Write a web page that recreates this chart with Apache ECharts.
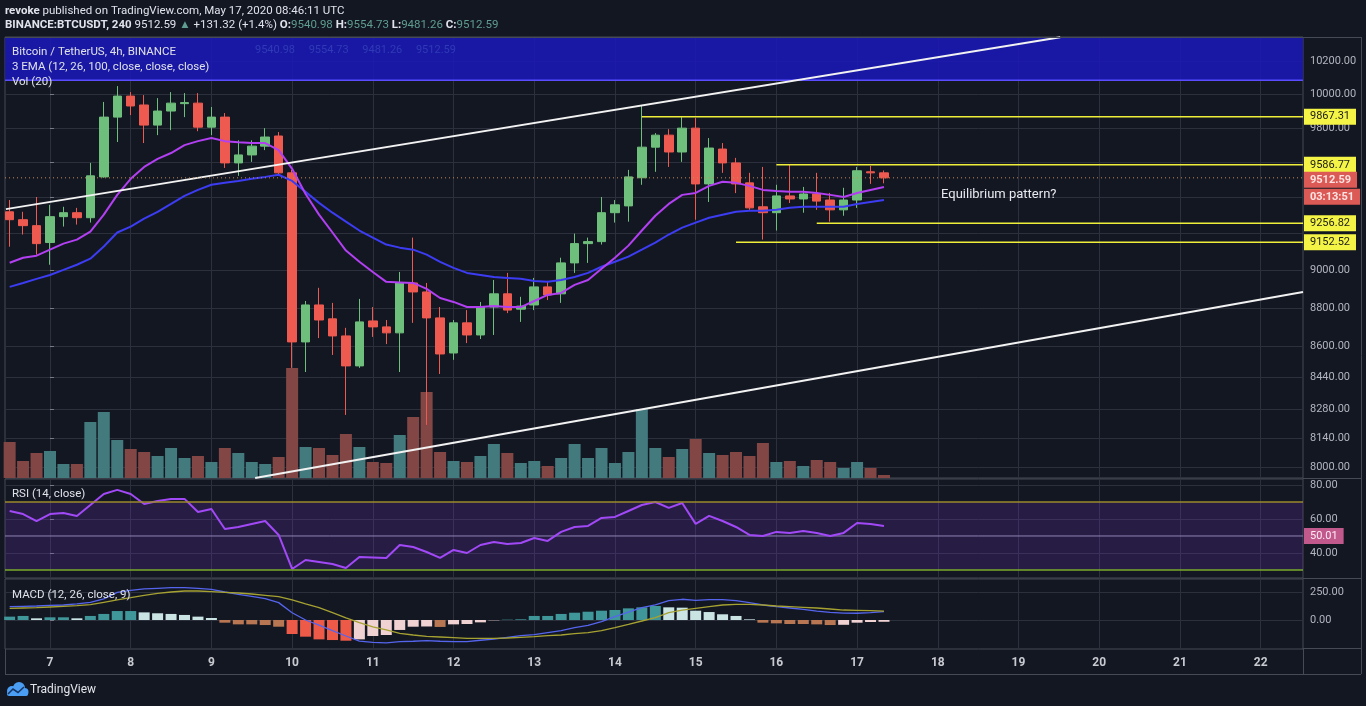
<!DOCTYPE html>
<html><head><meta charset="utf-8">
<script src="https://cdn.jsdelivr.net/npm/echarts@6/dist/echarts.min.js"></script>
<style>html,body{margin:0;padding:0;background:#131722;overflow:hidden}#c{width:1366px;height:706px}</style>
</head><body><div id="c"></div>
<script>
// ---------------- DATA ----------------
// 4h candles, BINANCE:BTCUSDT, first candle May 6 12:00 UTC; hours counted from May 7 00:00 UTC
const firstCandleHour = -12;
const candleStepHours = 4;
// [open, high, low, close]
const ohlc = [
[9321,9387,9128,9277],[9277,9321,9195,9244],[9244,9404,9085,9145],[9151,9360,9030,9294],
[9294,9349,9239,9316],[9316,9343,9250,9288],[9288,9598,9261,9524],[9518,9955,9513,9865],
[9865,10050,9719,9990],[9990,10014,9877,9931],[9937,9996,9713,9818],[9818,9978,9759,9901],
[9901,10014,9788,9948],[9945,10008,9865,9951],[9948,10008,9782,9806],[9806,9925,9759,9865],
[9865,9889,9569,9598],[9598,9729,9524,9644],[9644,9729,9604,9695],[9695,9800,9672,9748],
[9754,9777,9524,9541],[9541,9558,8489,8622],[8622,8836,8468,8815],[8815,8906,8642,8736],
[8742,8826,8555,8653],[8653,8695,8253,8499],[8499,8847,8489,8726],[8731,8804,8648,8700],
[8700,8736,8611,8669],[8669,8991,8468,8932],[8932,9178,8721,8884],[8884,8932,8204,8747],
[8747,8804,8458,8560],[8565,8736,8530,8721],[8721,8788,8616,8658],[8658,8831,8637,8804],
[8804,8948,8658,8874],[8874,8986,8772,8788],[8793,8858,8726,8809],[8815,8959,8788,8911],
[8911,8943,8841,8868],[8874,9068,8826,9040],[9040,9200,8986,9145],[9145,9178,9040,9156],
[9156,9404,9140,9316],[9316,9387,9261,9360],[9354,9558,9266,9518],[9513,9937,9473,9689],
[9689,9771,9547,9759],[9759,9794,9575,9661],[9661,9865,9604,9800],[9800,9859,9277,9478],
[9478,9742,9376,9684],[9678,9713,9541,9598],[9598,9627,9426,9478],[9484,9541,9332,9343],
[9349,9575,9167,9316],[9316,9473,9217,9410],[9410,9587,9370,9393],[9393,9461,9316,9421],
[9421,9541,9332,9381],[9387,9427,9266,9332],[9332,9456,9299,9387],[9387,9575,9343,9553],
[9547,9581,9478,9541],[9540.98,9554.73,9481.26,9512.59]
];
const volume = [18000,8500,12500,13500,7000,7000,28000,33000,19000,14500,
13000,11000,15000,10000,11000,8000,15000,12500,8000,7000,
10500,55000,15500,15000,11500,22000,15500,8000,7500,21500,
30500,43000,13000,8500,8000,11000,17000,12500,7500,8500,
6000,10000,17000,10000,15000,7500,13000,34500,15000,10500,
14500,19500,12500,11500,13000,11000,17500,8000,8500,6000,
9000,8000,5000,8000,5000,1500];
const ema12 = [9041,9068,9079,9112,9145,9167,9211,9305,9416,9507,
9575,9621,9655,9701,9724,9742,9724,9718,9713,9713,
9672,9564,9421,9305,9206,9107,9046,8991,8938,8935,
8932,8900,8852,8831,8804,8804,8809,8804,8804,8836,
8868,8879,8922,8948,9008,9068,9134,9217,9299,9365,
9416,9427,9467,9490,9484,9467,9444,9438,9433,9433,
9427,9416,9404,9427,9444,9461];
const ema26 = [8911,8932,8954,8975,9002,9030,9063,9129,9206,9239,
9283,9321,9365,9410,9444,9473,9484,9495,9507,9518,
9530,9495,9433,9371,9316,9266,9217,9178,9140,9123,
9112,9085,9046,9013,8986,8975,8964,8959,8954,8943,
8938,8948,8964,8986,9019,9046,9074,9112,9151,9195,
9233,9261,9288,9305,9321,9327,9327,9332,9343,9349,
9349,9349,9349,9365,9376,9387];
const rsi = [64.7,62.9,58.8,62.9,63.5,61.8,68.2,74.7,77.1,74.7,
68.8,70.6,71.8,71.8,64.1,65.9,54.1,55.3,57.1,58.8,
50.6,30.6,35.9,34.7,33.5,31.2,37.6,37.4,37.1,44.7,
43.5,40.6,37.1,41.8,40.0,44.7,46.5,45.3,45.9,48.8,
47.1,52.4,55.3,55.9,60.6,61.2,64.7,68.2,70.0,66.5,
69.4,57.1,61.8,58.8,55.3,50.6,50.0,52.4,51.8,52.9,
51.8,50.0,51.8,57.6,57.1,55.9];
const macd = [119,122,125,131,134,143,158,188,247,265,
277,283,289,289,283,274,250,229,211,190,
155,65,0,-45,-95,-143,-188,-199,-205,-193,
-190,-185,-190,-193,-193,-181,-170,-155,-140,-131,
-113,-95,-68,-48,-15,30,71,110,134,173,
185,176,182,182,173,155,134,119,107,95,
80,68,62,60,65,74];
const signal = [104,107,110,116,122,128,137,158,179,199,
220,238,250,259,259,253,247,241,232,220,
208,179,143,110,65,18,-24,-62,-89,-119,
-134,-146,-152,-158,-164,-164,-164,-161,-155,-149,
-140,-134,-122,-113,-95,-68,-39,-9,21,65,
89,104,119,134,140,140,134,125,119,113,
107,98,89,86,83,80];
const hist = [30,36,15,24,24,15,36,54,80,80,
68,60,54,45,30,18,-24,-39,-39,-45,
-60,-125,-149,-173,-179,-185,-173,-143,-134,-89,
-60,-58,-62,-39,-36,-21,-3,3,6,36,
36,54,65,74,83,89,104,113,125,113,
110,83,71,51,36,6,-24,-30,-36,-36,
-39,-45,-43,-24,-18,-16];
// day ticks (hours from May 7 00:00)
const dayHours = [0,24,48,72,96,120,144,168,192,216,240,264,288,312,336,360];
const dayLabels = ['7','8','9','10','11','12','13','14','15','16','17','18','19','20','21','22'];
const priceTicks = [8000,8140,8280,8440,8600,8800,9000,9200,9400,9600,9800,10000,10200];
const priceLabelTicks = [8000,8140,8280,8440,8600,8800,9000,9800,10000,10200];
const rsiTicks = [40,60,80];
const macdTicks = [0,250];
// drawings: horizontal levels [price, start hour]
const levelPrices = [9867.31, 9586.77, 9256.82, 9152.52];
const levelFromHours = [176, 216, 228, 204];
// trend lines: [hour, price] anchors
const upperTrend = [[-13.1, 9336], [300.4, 10349]];
const lowerTrend = [[61.0, 7947], [372.6, 8884]];
// top rectangle drawing (price from)
const bandFromPrice = 10086;
const rsiValueLabel = 50.01;
const countdown = '03:13:51';
const change = 131.32, changePct = 1.4;

// ---------------- CHART ----------------
const X_MIN = -13.38, X_MAX = 372.6;
const P_MIN = 7947, P_MAX = 10350;
const L = Math.log;
const hourAt = i => firstCandleHour + candleStepHours * i;
const FONT = 'Roboto, "Liberation Sans", sans-serif';
const GRID_C = '#2c303c', FRAME = '#464a55', AXIS_TXT = '#b2b5be';
const UP = '#6fbf7c', DN = '#ef5a50';

const last = ohlc[ohlc.length - 1];
const lastClose = last[3];

const candleData = ohlc.map((d, i) => [hourAt(i), L(d[0]), L(d[3]), L(d[2]), L(d[1])]);
const volData = volume.map((v, i) => ({value: [hourAt(i), v],
  itemStyle: {color: ohlc[i][3] >= ohlc[i][0] ? '#437a7e' : '#824745'}}));
const lineData = arr => arr.map((v, i) => [hourAt(i), L(v)]);
const histData = hist.map((v, i) => {
  const prev = i > 0 ? hist[i - 1] : v;
  let c;
  if (v >= 0) c = v >= prev ? '#3f9799' : '#c9e4e3';
  else c = v <= prev ? (v < -100 ? '#ee5a48' : '#b87752') : '#f1d2d2';
  return {value: [hourAt(i), v], itemStyle: {color: c}};
});

function xAxis(gi) {
  return {
    type: 'value', gridIndex: gi, min: X_MIN, max: X_MAX,
    axisLine: {show: false},
    axisTick: {show: false, customValues: dayHours},
    axisLabel: {show: gi === 2, customValues: dayHours, formatter: v => dayLabels[dayHours.indexOf(v)],
      color: '#c8cad0', fontSize: 12, fontWeight: 'bold', fontFamily: FONT, margin: 8},
    splitLine: {show: true, lineStyle: {color: GRID_C, width: 1}}
  };
}
function yAxis(gi, min, max, ticks, labels, fmt) {
  return {
    type: 'value', gridIndex: gi, position: 'right', min, max,
    axisLine: {show: false},
    axisTick: {show: true, length: 4, lineStyle: {color: '#787b86'}, customValues: ticks},
    axisLabel: {customValues: labels, formatter: fmt, color: AXIS_TXT, fontSize: 11, fontFamily: FONT, margin: 7},
    splitLine: {show: true, lineStyle: {color: GRID_C, width: 1}}
  };
}
const boxLabel = (text, bg, fg, extra) => Object.assign({
  show: true, formatter: () => text, backgroundColor: bg, color: fg,
  fontSize: 11, fontFamily: FONT, padding: [2, 6, 2, 6], distance: 1, lineHeight: 12
}, extra || {});

const series = [];
// top rectangle drawing + its edge
series.push({
  type: 'line', xAxisIndex: 0, yAxisIndex: 0, z: 1, silent: true, symbol: 'none',
  data: [[X_MIN, L(bandFromPrice)], [X_MAX, L(bandFromPrice)]],
  lineStyle: {color: '#5a4cff', width: 1.5},
  markArea: {silent: true, itemStyle: {color: 'rgba(27,24,178,0.9)'},
    data: [[{yAxis: L(bandFromPrice)}, {yAxis: L(P_MAX)}]]}
});
series.push({type: 'bar', xAxisIndex: 0, yAxisIndex: 1, z: 1, barWidth: 12, data: volData, silent: true});
series.push({
  type: 'candlestick', xAxisIndex: 0, yAxisIndex: 0, z: 3, barWidth: 9,
  data: candleData, encode: {x: 0, y: [1, 2, 3, 4]},
  itemStyle: {color: UP, color0: DN, borderColor: UP, borderColor0: DN, borderWidth: 1}
});
series.push({type: 'line', xAxisIndex: 0, yAxisIndex: 0, z: 4, symbol: 'none', silent: true,
  data: lineData(ema26), lineStyle: {color: '#3c3cf2', width: 2}});
series.push({type: 'line', xAxisIndex: 0, yAxisIndex: 0, z: 4, symbol: 'none', silent: true,
  data: lineData(ema12), lineStyle: {color: '#b23ff2', width: 2}});
[upperTrend, lowerTrend].forEach(t => series.push({
  type: 'line', xAxisIndex: 0, yAxisIndex: 0, z: 5, symbol: 'none', silent: true,
  data: t.map(p => [p[0], L(p[1])]), lineStyle: {color: '#f2f2f2', width: 2}
}));
levelPrices.forEach((p, k) => series.push({
  type: 'line', xAxisIndex: 0, yAxisIndex: 0, z: 6, symbol: 'none', silent: true,
  data: [[levelFromHours[k], L(p)], [X_MAX, L(p)]], lineStyle: {color: '#efef3a', width: 1.5},
  endLabel: boxLabel(p.toFixed(2), '#f4f446', '#1b1b1b')
}));
series.push({
  type: 'line', xAxisIndex: 0, yAxisIndex: 0, z: 6, symbol: 'none', silent: true,
  data: [[X_MIN, L(lastClose)], [X_MAX, L(lastClose)]],
  lineStyle: {color: '#c98a58', width: 1, type: [1, 3]},
  endLabel: boxLabel(lastClose.toFixed(2), '#dc5a55', '#ffe4e4', {fontWeight: 'bold', offset: [0, 2]})
});
series.push({
  type: 'line', xAxisIndex: 0, yAxisIndex: 0, z: 6, symbol: 'none', silent: true,
  data: [[X_MIN, L(lastClose)], [X_MAX, L(lastClose)]],
  lineStyle: {opacity: 0},
  endLabel: boxLabel(countdown, '#dc5a55', '#ffe4e4', {fontWeight: 'bold', offset: [0, 19]})
});
// RSI
series.push({
  type: 'line', xAxisIndex: 1, yAxisIndex: 2, z: 3, symbol: 'none', silent: true,
  data: [[X_MIN, 50], [X_MAX, 50]], lineStyle: {color: '#8f84b4', width: 1},
  endLabel: boxLabel(rsiValueLabel.toFixed(2), '#c2598d', '#ffeaf4'),
  markArea: {silent: true, itemStyle: {color: 'rgba(120,50,205,0.2)'}, data: [[{yAxis: 30}, {yAxis: 70}]]},
  markLine: {silent: true, symbol: ['none', 'none'], label: {show: false},
    data: [{yAxis: 70, lineStyle: {color: '#9c8a2c', width: 1.5, type: 'solid'}},
           {yAxis: 30, lineStyle: {color: '#79aa2a', width: 1.5, type: 'solid'}}]}
});
series.push({type: 'line', xAxisIndex: 1, yAxisIndex: 2, z: 4, symbol: 'none', silent: true,
  data: rsi.map((v, i) => [hourAt(i), v]), lineStyle: {color: '#a249f7', width: 2}});
// MACD
series.push({type: 'bar', xAxisIndex: 2, yAxisIndex: 3, z: 2, barWidth: 11, data: histData, silent: true});
series.push({type: 'line', xAxisIndex: 2, yAxisIndex: 3, z: 3, symbol: 'none', silent: true,
  data: macd.map((v, i) => [hourAt(i), v]), lineStyle: {color: '#5565ee', width: 1.3}});
series.push({type: 'line', xAxisIndex: 2, yAxisIndex: 3, z: 3, symbol: 'none', silent: true,
  data: signal.map((v, i) => [hourAt(i), v]), lineStyle: {color: '#a6a232', width: 1.3}});

const txt = (x, y, text, size, fill, extra) => ({
  type: 'text', x, y, z: 100, silent: true,
  style: Object.assign({text, fill, fontSize: size, fontFamily: FONT, verticalAlign: 'middle'}, extra || {})
});
const hline = (x1, x2, y) => ({type: 'line', z: 50, silent: true, shape: {x1, y1: y, x2, y2: y}, style: {stroke: FRAME, lineWidth: 1}});
const vline = (x, y1, y2) => ({type: 'line', z: 50, silent: true, shape: {x1: x, y1, x2: x, y2}, style: {stroke: FRAME, lineWidth: 1}});

const HS = 11.5;
const hdr2 = `{b|BINANCE:BTCUSDT, 240} ${lastClose.toFixed(2)} {v|▲} +${change.toFixed(2)} (+${changePct.toFixed(1)}%) ` +
  `{b|O:}{v|${last[0].toFixed(2)}} {b|H:}{v|${last[1].toFixed(2)}} {b|L:}{v|${last[2].toFixed(2)}} {b|C:}{v|${last[3].toFixed(2)}}`;

const graphic = [
  txt(5, 11, '{b|revoke} published on TradingView.com, May 17, 2020 08:46:11 UTC', HS, '#e0e3eb',
    {rich: {b: {fontWeight: 'bold', fill: '#e0e3eb', fontSize: HS, fontFamily: FONT}}}),
  txt(5, 25, hdr2, HS, '#e0e3eb',
    {rich: {b: {fontWeight: 'bold', fill: '#e0e3eb', fontSize: HS, fontFamily: FONT},
            v: {fill: '#5f9d90', fontSize: HS, fontFamily: FONT}}}),
  txt(255, 50, '9540.98     9554.73     9481.26     9512.59', 11, 'rgba(80,110,210,0.4)'),
  txt(12, 52, 'Bitcoin / TetherUS, 4h, BINANCE', 11.5, '#dfe1e8'),
  txt(12, 67, '3 EMA (12, 26, 100, close, close, close)', 11.5, '#dfe1e8'),
  txt(12, 82, 'Vol (20)', 11.5, '#dfe1e8'),
  txt(12, 494, 'RSI (14, close)', 11.5, '#dfe1e8'),
  txt(12, 595, 'MACD (12, 26, close, 9)', 11.5, '#dfe1e8'),
  txt(941, 195, 'Equilibrium pattern?', 13, '#e8e9ee'),
  hline(5, 1361, 37.5), hline(1303, 1361, 478.5), hline(1303, 1361, 578.5), hline(1303, 1361, 648.5),
  hline(5, 1361, 674.5), vline(1361.5, 37, 674), vline(5.5, 649, 674), vline(1303.5, 649, 674),
  // TradingView logo
  {type: 'circle', z: 100, shape: {cx: 12, cy: 691, r: 5}, style: {fill: '#4a9ff5'}},
  {type: 'circle', z: 100, shape: {cx: 19, cy: 688, r: 6}, style: {fill: '#4a9ff5'}},
  {type: 'circle', z: 100, shape: {cx: 24.5, cy: 692, r: 4}, style: {fill: '#4a9ff5'}},
  {type: 'rect', z: 100, shape: {x: 7, y: 691, width: 21, height: 5, r: 2}, style: {fill: '#4a9ff5'}},
  {type: 'polyline', z: 101, shape: {points: [[8, 694], [13, 689], [18, 692.5], [24, 687]]},
    style: {stroke: '#163566', lineWidth: 1.6, fill: null}},
  txt(30, 690, 'TradingView', 12, '#e3e5ea')
];

const chart = echarts.init(document.getElementById('c'), null, {width: 1366, height: 706});
chart.setOption({
  backgroundColor: '#131722',
  animation: false,
  grid: [
    {left: 5, right: 63, top: 37, height: 441, show: true, borderColor: FRAME, borderWidth: 1},
    {left: 5, right: 63, top: 479, height: 99, show: true, borderColor: FRAME, borderWidth: 1},
    {left: 5, right: 63, top: 579, height: 70, show: true, borderColor: FRAME, borderWidth: 1}
  ],
  xAxis: [xAxis(0), xAxis(1), xAxis(2)],
  yAxis: [
    yAxis(0, L(P_MIN), L(P_MAX), priceTicks.map(L), priceLabelTicks.map(L), v => Math.exp(v).toFixed(2)),
    {type: 'value', gridIndex: 0, min: 0, max: 220500, show: false, splitLine: {show: false}},
    yAxis(1, 25.3, 83.5, rsiTicks, rsiTicks, v => v.toFixed(2)),
    yAxis(2, -259, 366, macdTicks, macdTicks, v => v.toFixed(2))
  ],
  series,
  graphic
});
</script></body></html>
